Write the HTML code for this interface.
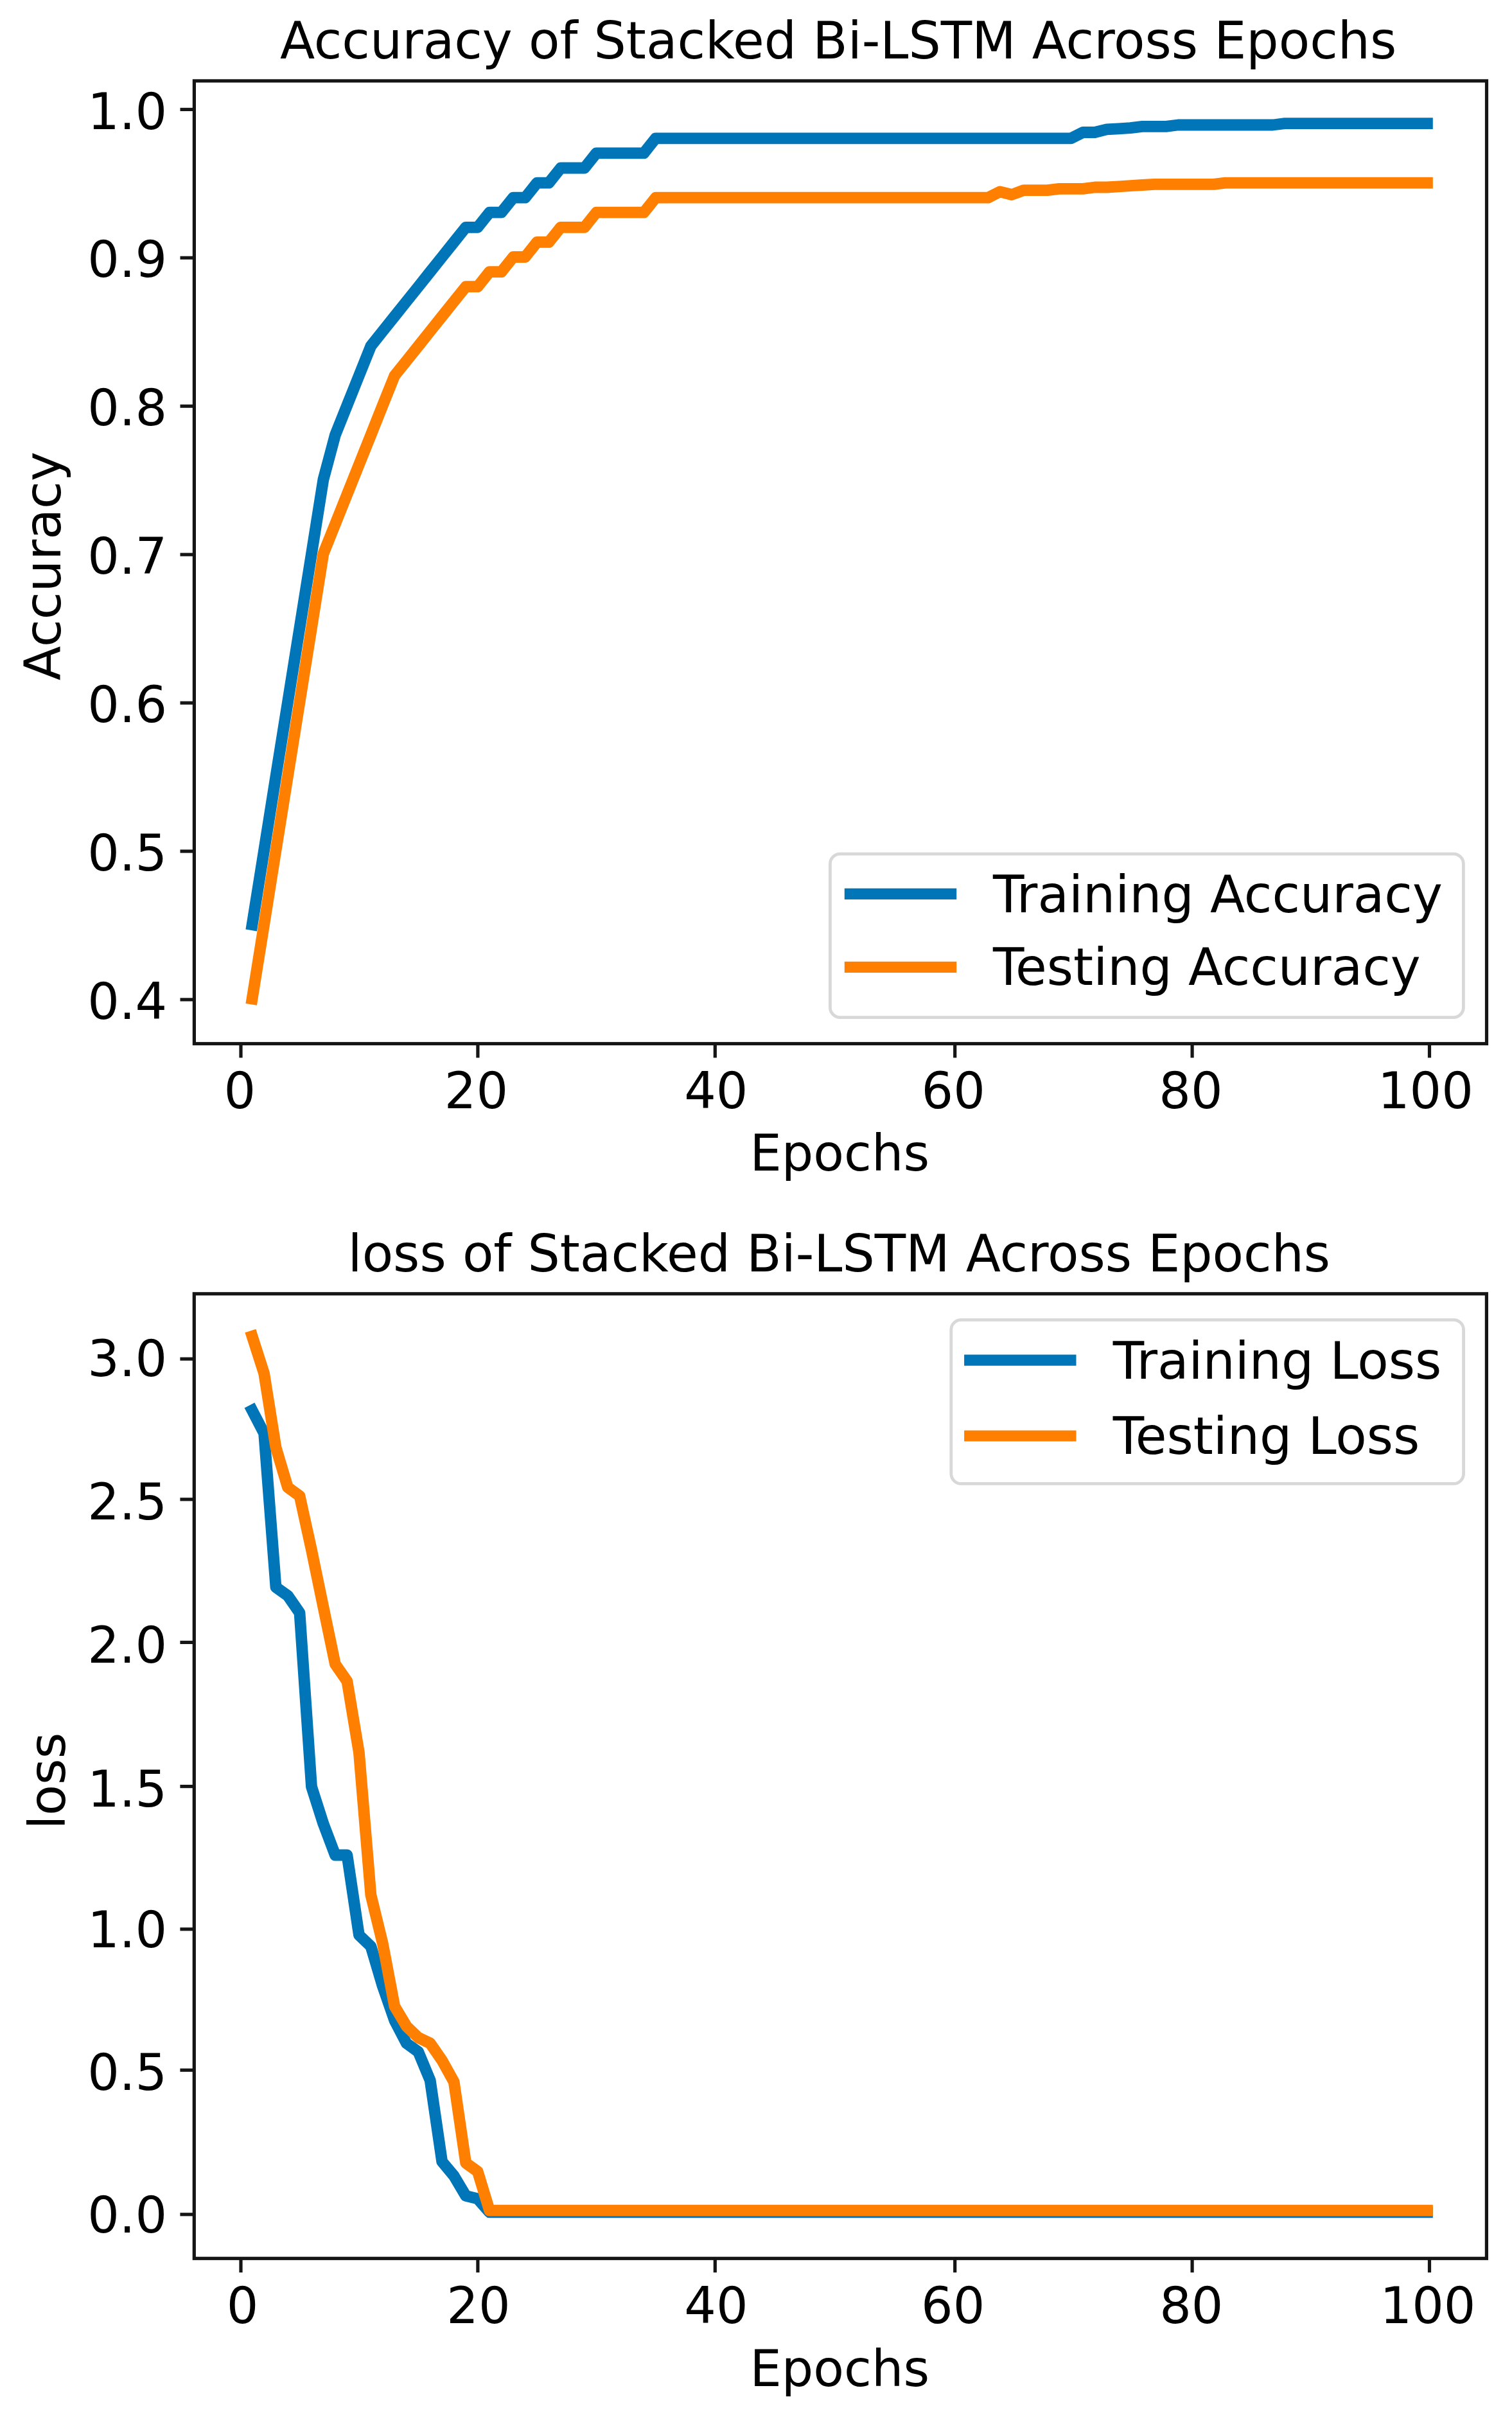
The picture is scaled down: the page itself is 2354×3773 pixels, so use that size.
<!DOCTYPE html>
<html lang="en"><head><meta charset="utf-8"><title>Stacked Bi-LSTM accuracy and loss across epochs</title>
<style>html,body{margin:0;padding:0;background:#fff}svg{display:block}text{font-family:"DejaVu Sans","Liberation Sans",sans-serif;font-size:78.0px;fill:#000}.b{font-size:79.25px}</style>
</head><body>
<svg width="2354" height="3773" viewBox="0 0 2354 3773">
<rect width="2354" height="3773" fill="#fff"/>
<polyline points="392.6,1439.2 411.1,1323.7 429.5,1208.2 448.0,1092.8 466.5,977.3 485.0,861.9 503.4,746.4 521.9,677.1 540.4,630.9 558.9,584.8 577.4,538.6 595.8,515.5 614.3,492.4 632.8,469.3 651.3,446.2 669.7,423.1 688.2,400.0 706.7,376.9 725.2,353.8 743.7,353.8 762.1,330.7 780.6,330.7 799.1,307.7 817.6,307.7 836.1,284.6 854.5,284.6 873.0,261.5 891.5,261.5 910.0,261.5 928.4,238.4 946.9,238.4 965.4,238.4 983.9,238.4 1002.4,238.4 1020.8,215.3 1039.3,215.3 1057.8,215.3 1076.3,215.3 1094.7,215.3 1113.2,215.3 1131.7,215.3 1150.2,215.3 1168.7,215.3 1187.1,215.3 1205.6,215.3 1224.1,215.3 1242.6,215.3 1261.0,215.3 1279.5,215.3 1298.0,215.3 1316.5,215.3 1335.0,215.3 1353.4,215.3 1371.9,215.3 1390.4,215.3 1408.9,215.3 1427.3,215.3 1445.8,215.3 1464.3,215.3 1482.8,215.3 1501.3,215.3 1519.7,215.3 1538.2,215.3 1556.7,215.3 1575.2,215.3 1593.6,215.3 1612.1,215.3 1630.6,215.3 1649.1,215.3 1667.6,215.3 1686.0,206.0 1704.5,206.0 1723.0,201.4 1741.5,200.3 1760.0,199.1 1778.4,196.8 1796.9,196.8 1815.4,196.8 1833.9,194.5 1852.3,194.5 1870.8,194.5 1889.3,194.5 1907.8,194.5 1926.3,194.5 1944.7,194.5 1963.2,194.5 1981.7,194.5 2000.2,192.2 2018.6,192.2 2037.1,192.2 2055.6,192.2 2074.1,192.2 2092.6,192.2 2111.0,192.2 2129.5,192.2 2148.0,192.2 2166.5,192.2 2184.9,192.2 2203.4,192.2 2221.9,192.2" fill="none" stroke="#0076b8" stroke-width="17.8" stroke-linejoin="round" stroke-linecap="square"/>
<polyline points="392.6,1554.6 411.1,1439.2 429.5,1323.7 448.0,1208.2 466.5,1092.8 485.0,977.3 503.4,861.9 521.9,815.7 540.4,769.5 558.9,723.3 577.4,677.1 595.8,630.9 614.3,584.8 632.8,561.7 651.3,538.6 669.7,515.5 688.2,492.4 706.7,469.3 725.2,446.2 743.7,446.2 762.1,423.1 780.6,423.1 799.1,400.0 817.6,400.0 836.1,376.9 854.5,376.9 873.0,353.8 891.5,353.8 910.0,353.8 928.4,330.7 946.9,330.7 965.4,330.7 983.9,330.7 1002.4,330.7 1020.8,307.7 1039.3,307.7 1057.8,307.7 1076.3,307.7 1094.7,307.7 1113.2,307.7 1131.7,307.7 1150.2,307.7 1168.7,307.7 1187.1,307.7 1205.6,307.7 1224.1,307.7 1242.6,307.7 1261.0,307.7 1279.5,307.7 1298.0,307.7 1316.5,307.7 1335.0,307.7 1353.4,307.7 1371.9,307.7 1390.4,307.7 1408.9,307.7 1427.3,307.7 1445.8,307.7 1464.3,307.7 1482.8,307.7 1501.3,307.7 1519.7,307.7 1538.2,307.7 1556.7,298.4 1575.2,303.0 1593.6,296.1 1612.1,296.1 1630.6,296.1 1649.1,293.8 1667.6,293.8 1686.0,293.8 1704.5,291.5 1723.0,291.5 1741.5,290.3 1760.0,289.2 1778.4,288.0 1796.9,286.9 1815.4,286.9 1833.9,286.9 1852.3,286.9 1870.8,286.9 1889.3,286.9 1907.8,284.6 1926.3,284.6 1944.7,284.6 1963.2,284.6 1981.7,284.6 2000.2,284.6 2018.6,284.6 2037.1,284.6 2055.6,284.6 2074.1,284.6 2092.6,284.6 2111.0,284.6 2129.5,284.6 2148.0,284.6 2166.5,284.6 2184.9,284.6 2203.4,284.6 2221.9,284.6" fill="none" stroke="#ff7f00" stroke-width="17.8" stroke-linejoin="round" stroke-linecap="square"/>
<rect x="302.4" y="125.9" width="2012.1" height="1498.6" fill="none" stroke="#151515" stroke-width="5.2"/>
<line x1="375.0" y1="1624.5" x2="375.0" y2="1646.4" stroke="#151515" stroke-width="5.2"/>
<text x="373.4" y="1724.8" text-anchor="middle">0</text>
<line x1="743.9" y1="1624.5" x2="743.9" y2="1646.4" stroke="#151515" stroke-width="5.2"/>
<text x="741.4" y="1724.8" text-anchor="middle">20</text>
<line x1="1113.3" y1="1624.5" x2="1113.3" y2="1646.4" stroke="#151515" stroke-width="5.2"/>
<text x="1114.8" y="1724.8" text-anchor="middle">40</text>
<line x1="1486.7" y1="1624.5" x2="1486.7" y2="1646.4" stroke="#151515" stroke-width="5.2"/>
<text x="1484.2" y="1724.8" text-anchor="middle">60</text>
<line x1="1856.1" y1="1624.5" x2="1856.1" y2="1646.4" stroke="#151515" stroke-width="5.2"/>
<text x="1853.9" y="1724.8" text-anchor="middle">80</text>
<line x1="2225.5" y1="1624.5" x2="2225.5" y2="1646.4" stroke="#151515" stroke-width="5.2"/>
<text x="2219.4" y="1724.8" text-anchor="middle">100</text>
<line x1="280.5" y1="1555.9" x2="302.4" y2="1555.9" stroke="#151515" stroke-width="5.2"/>
<text x="260.2" y="1586.0" text-anchor="end">0.4</text>
<line x1="280.5" y1="1325.0" x2="302.4" y2="1325.0" stroke="#151515" stroke-width="5.2"/>
<text x="260.2" y="1355.1" text-anchor="end">0.5</text>
<line x1="280.5" y1="1094.1" x2="302.4" y2="1094.1" stroke="#151515" stroke-width="5.2"/>
<text x="260.2" y="1124.2" text-anchor="end">0.6</text>
<line x1="280.5" y1="863.2" x2="302.4" y2="863.2" stroke="#151515" stroke-width="5.2"/>
<text x="260.2" y="893.3" text-anchor="end">0.7</text>
<line x1="280.5" y1="632.2" x2="302.4" y2="632.2" stroke="#151515" stroke-width="5.2"/>
<text x="260.2" y="662.3" text-anchor="end">0.8</text>
<line x1="280.5" y1="401.3" x2="302.4" y2="401.3" stroke="#151515" stroke-width="5.2"/>
<text x="260.2" y="431.4" text-anchor="end">0.9</text>
<line x1="280.5" y1="170.4" x2="302.4" y2="170.4" stroke="#151515" stroke-width="5.2"/>
<text x="260.2" y="200.5" text-anchor="end">1.0</text>
<text x="1305.1" y="90.7" text-anchor="middle" class="b">Accuracy of Stacked Bi-LSTM Across Epochs</text>
<text x="1307.3" y="1822.0" text-anchor="middle">Epochs</text>
<text transform="translate(93.6,881) rotate(-90)" text-anchor="middle">Accuracy</text>
<rect x="1292.4" y="1329.1" width="986.0" height="254.5" rx="15.6" ry="15.6" fill="#fff" fill-opacity="0.8" stroke="#d8d8d8" stroke-width="4.8"/>
<line x1="1323.4" y1="1391.3" x2="1480.6" y2="1391.3" stroke="#0076b8" stroke-width="17.2" stroke-linecap="square"/>
<line x1="1323.4" y1="1505.4" x2="1480.6" y2="1505.4" stroke="#ff7f00" stroke-width="17.2" stroke-linecap="square"/>
<text x="1546.1" y="1419.7" text-anchor="start" class="b">Training Accuracy</text>
<text x="1546.1" y="1533.1" text-anchor="start" class="b">Testing Accuracy</text>
<polyline points="392.6,2195.3 411.1,2230.8 429.5,2470.4 448.0,2483.7 466.5,2510.3 485.0,2781.0 503.4,2838.7 521.9,2887.5 540.4,2887.5 558.9,3011.8 577.4,3029.6 595.8,3091.7 614.3,3144.9 632.8,3180.4 651.3,3193.8 669.7,3238.1 688.2,3364.6 706.7,3386.8 725.2,3417.9 743.7,3422.3 762.1,3443.4 780.6,3443.4 799.1,3443.4 817.6,3443.4 836.1,3443.4 854.5,3443.4 873.0,3443.4 891.5,3443.4 910.0,3443.4 928.4,3443.4 946.9,3443.4 965.4,3443.4 983.9,3443.4 1002.4,3443.4 1020.8,3443.4 1039.3,3443.4 1057.8,3443.4 1076.3,3443.4 1094.7,3443.4 1113.2,3443.4 1131.7,3443.4 1150.2,3443.4 1168.7,3443.4 1187.1,3443.4 1205.6,3443.4 1224.1,3443.4 1242.6,3443.4 1261.0,3443.4 1279.5,3443.4 1298.0,3443.4 1316.5,3443.4 1335.0,3443.4 1353.4,3443.4 1371.9,3443.4 1390.4,3443.4 1408.9,3443.4 1427.3,3443.4 1445.8,3443.4 1464.3,3443.4 1482.8,3443.4 1501.3,3443.4 1519.7,3443.4 1538.2,3443.4 1556.7,3443.4 1575.2,3443.4 1593.6,3443.4 1612.1,3443.4 1630.6,3443.4 1649.1,3443.4 1667.6,3443.4 1686.0,3443.4 1704.5,3443.4 1723.0,3443.4 1741.5,3443.4 1760.0,3443.4 1778.4,3443.4 1796.9,3443.4 1815.4,3443.4 1833.9,3443.4 1852.3,3443.4 1870.8,3443.4 1889.3,3443.4 1907.8,3443.4 1926.3,3443.4 1944.7,3443.4 1963.2,3443.4 1981.7,3443.4 2000.2,3443.4 2018.6,3443.4 2037.1,3443.4 2055.6,3443.4 2074.1,3443.4 2092.6,3443.4 2111.0,3443.4 2129.5,3443.4 2148.0,3443.4 2166.5,3443.4 2184.9,3443.4 2203.4,3443.4 2221.9,3443.4" fill="none" stroke="#0076b8" stroke-width="17.8" stroke-linejoin="round" stroke-linecap="square"/>
<polyline points="392.6,2079.9 411.1,2137.6 429.5,2253.0 448.0,2315.1 466.5,2328.4 485.0,2412.7 503.4,2501.5 521.9,2590.2 540.4,2616.9 558.9,2727.8 577.4,2949.7 595.8,3025.1 614.3,3122.7 632.8,3153.8 651.3,3171.6 669.7,3180.4 688.2,3207.1 706.7,3240.3 725.2,3366.8 743.7,3380.1 762.1,3440.7 780.6,3440.7 799.1,3440.7 817.6,3440.7 836.1,3440.7 854.5,3440.7 873.0,3440.7 891.5,3440.7 910.0,3440.7 928.4,3440.7 946.9,3440.7 965.4,3440.7 983.9,3440.7 1002.4,3440.7 1020.8,3440.7 1039.3,3440.7 1057.8,3440.7 1076.3,3440.7 1094.7,3440.7 1113.2,3440.7 1131.7,3440.7 1150.2,3440.7 1168.7,3440.7 1187.1,3440.7 1205.6,3440.7 1224.1,3440.7 1242.6,3440.7 1261.0,3440.7 1279.5,3440.7 1298.0,3440.7 1316.5,3440.7 1335.0,3440.7 1353.4,3440.7 1371.9,3440.7 1390.4,3440.7 1408.9,3440.7 1427.3,3440.7 1445.8,3440.7 1464.3,3440.7 1482.8,3440.7 1501.3,3440.7 1519.7,3440.7 1538.2,3440.7 1556.7,3440.7 1575.2,3440.7 1593.6,3440.7 1612.1,3440.7 1630.6,3440.7 1649.1,3440.7 1667.6,3440.7 1686.0,3440.7 1704.5,3440.7 1723.0,3440.7 1741.5,3440.7 1760.0,3440.7 1778.4,3440.7 1796.9,3440.7 1815.4,3440.7 1833.9,3440.7 1852.3,3440.7 1870.8,3440.7 1889.3,3440.7 1907.8,3440.7 1926.3,3440.7 1944.7,3440.7 1963.2,3440.7 1981.7,3440.7 2000.2,3440.7 2018.6,3440.7 2037.1,3440.7 2055.6,3440.7 2074.1,3440.7 2092.6,3440.7 2111.0,3440.7 2129.5,3440.7 2148.0,3440.7 2166.5,3440.7 2184.9,3440.7 2203.4,3440.7 2221.9,3440.7" fill="none" stroke="#ff7f00" stroke-width="17.8" stroke-linejoin="round" stroke-linecap="square"/>
<rect x="302.3" y="2013.8" width="2012.1" height="1501.5" fill="none" stroke="#151515" stroke-width="5.2"/>
<line x1="375.0" y1="3515.3" x2="375.0" y2="3537.2" stroke="#151515" stroke-width="5.2"/>
<text x="377.6" y="3615.6" text-anchor="middle">0</text>
<line x1="743.9" y1="3515.3" x2="743.9" y2="3537.2" stroke="#151515" stroke-width="5.2"/>
<text x="745.0" y="3615.6" text-anchor="middle">20</text>
<line x1="1113.3" y1="3515.3" x2="1113.3" y2="3537.2" stroke="#151515" stroke-width="5.2"/>
<text x="1114.9" y="3615.6" text-anchor="middle">40</text>
<line x1="1486.7" y1="3515.3" x2="1486.7" y2="3537.2" stroke="#151515" stroke-width="5.2"/>
<text x="1483.7" y="3615.6" text-anchor="middle">60</text>
<line x1="1856.1" y1="3515.3" x2="1856.1" y2="3537.2" stroke="#151515" stroke-width="5.2"/>
<text x="1854.8" y="3615.6" text-anchor="middle">80</text>
<line x1="2225.5" y1="3515.3" x2="2225.5" y2="3537.2" stroke="#151515" stroke-width="5.2"/>
<text x="2223.0" y="3615.6" text-anchor="middle">100</text>
<line x1="280.4" y1="3446.8" x2="302.3" y2="3446.8" stroke="#151515" stroke-width="5.2"/>
<text x="260.2" y="3475.0" text-anchor="end">0.0</text>
<line x1="280.4" y1="3222.2" x2="302.3" y2="3222.2" stroke="#151515" stroke-width="5.2"/>
<text x="260.2" y="3253.3" text-anchor="end">0.5</text>
<line x1="280.4" y1="3002.8" x2="302.3" y2="3002.8" stroke="#151515" stroke-width="5.2"/>
<text x="260.2" y="3030.8" text-anchor="end">1.0</text>
<line x1="280.4" y1="2780.6" x2="302.3" y2="2780.6" stroke="#151515" stroke-width="5.2"/>
<text x="260.2" y="2811.5" text-anchor="end">1.5</text>
<line x1="280.4" y1="2556.4" x2="302.3" y2="2556.4" stroke="#151515" stroke-width="5.2"/>
<text x="260.2" y="2587.5" text-anchor="end">2.0</text>
<line x1="280.4" y1="2333.8" x2="302.3" y2="2333.8" stroke="#151515" stroke-width="5.2"/>
<text x="260.2" y="2365.1" text-anchor="end">2.5</text>
<line x1="280.4" y1="2115.2" x2="302.3" y2="2115.2" stroke="#151515" stroke-width="5.2"/>
<text x="260.2" y="2141.8" text-anchor="end">3.0</text>
<text x="1306.4" y="1978.9" text-anchor="middle" class="b">loss of Stacked Bi-LSTM Across Epochs</text>
<text x="1307.3" y="3714.0" text-anchor="middle">Epochs</text>
<text transform="translate(101.2,2772) rotate(-90)" text-anchor="middle">loss</text>
<rect x="1480.8" y="2054.3" width="797.8" height="255.1" rx="15.6" ry="15.6" fill="#fff" fill-opacity="0.8" stroke="#d8d8d8" stroke-width="4.8"/>
<line x1="1509.7" y1="2117.2" x2="1666.9" y2="2117.2" stroke="#0076b8" stroke-width="17.2" stroke-linecap="square"/>
<line x1="1509.7" y1="2235.0" x2="1666.9" y2="2235.0" stroke="#ff7f00" stroke-width="17.2" stroke-linecap="square"/>
<text x="1732.7" y="2145.7" text-anchor="start" class="b">Training Loss</text>
<text x="1732.7" y="2263.1" text-anchor="start" class="b">Testing Loss</text>
</svg></body></html>
